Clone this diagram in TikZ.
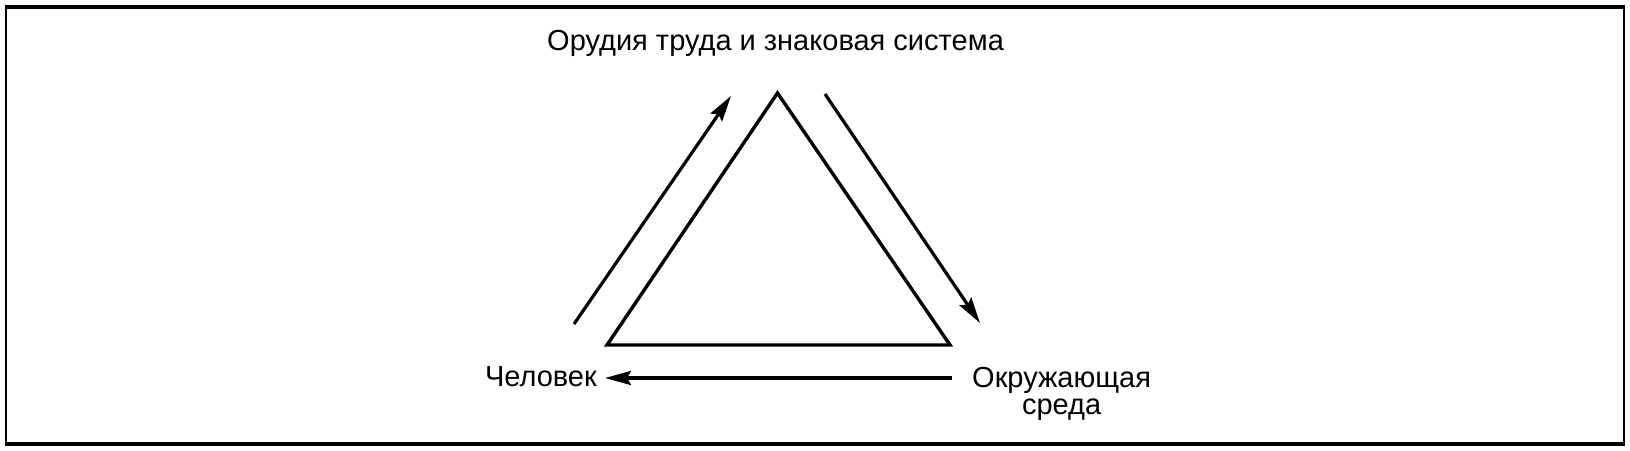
\documentclass[tikz,border=0pt]{standalone}
\usepackage{fontspec}
\setmainfont{Liberation Sans}
\usetikzlibrary{arrows.meta}
\begin{document}
\begin{tikzpicture}[x=1pt,y=-1pt,
  lbl/.style={inner sep=0pt,font=\fontsize{29}{33}\selectfont},
  tri/.style={line width=3.4pt,line join=miter},
  flow/.style={line width=3.2pt,-{Stealth[length=26pt,width=14pt,inset=4pt]}},
  framethin/.style={line width=2.4pt},
  framethick/.style={line width=4pt}]
\useasboundingbox (0,0) rectangle (1630,450);
% frame
\draw[framethin] (6,6) -- (6,444);
\draw[framethin] (1624,6) -- (1624,444);
\draw[framethick] (5,7) -- (1625,7);
\draw[framethick] (5,443.5) -- (1625,443.5);
% labels
\node[lbl,anchor=base west] (tools) at (547,50.7) {Орудия труда и знаковая система};
\node[lbl,anchor=base east] (man) at (597,386) {Человек};
\node[lbl,anchor=base west] (env) at (972,387) {Окружающая};
\node[lbl,anchor=base] (env2) at ([yshift=-27pt]env.base) {среда};
% triangle
\coordinate (apex) at (777.5,93);
\coordinate (bl) at (607,345);
\coordinate (br) at (950,345);
\draw[tri] (apex) -- (bl) -- (br) -- cycle;
% arrows
\coordinate (a1s) at (574,324);
\coordinate (a1e) at (731,96);
\coordinate (a2s) at (825,94);
\coordinate (a2e) at (980,323);
\coordinate (a3s) at (952,378);
\coordinate (a3e) at (605,378);
\draw[flow] (a1s) -- (a1e);
\draw[flow] (a2s) -- (a2e);
\draw[flow] (a3s) -- (a3e);
\end{tikzpicture}
\end{document}
